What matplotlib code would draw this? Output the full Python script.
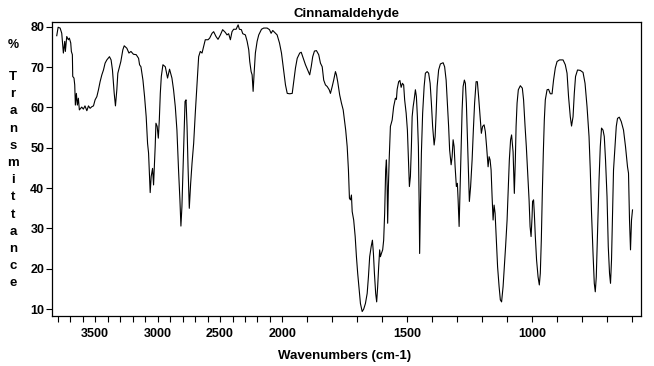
import matplotlib
matplotlib.use('Agg')
import matplotlib.pyplot as plt
import matplotlib.ticker as mticker
import numpy as np

plt.rcParams['font.family'] = ['Liberation Sans', 'DejaVu Sans']
plt.rcParams['font.weight'] = 'bold'

title = 'Cinnamaldehyde'
xlabel = 'Wavenumbers (cm-1)'
ylabel_letters = ['T', 'r', 'a', 'n', 's', 'm', 'i', 't', 't', 'a', 'n', 'c', 'e']

wavenumber = [
    3807, 3796, 3780, 3767, 3754, 3743, 3738, 3727, 3714, 3706, 3695, 3690, 3682, 3679,
    3669, 3663, 3658, 3650, 3642, 3634, 3626, 3607, 3594, 3581, 3566, 3553, 3540, 3526,
    3513, 3500, 3486, 3473, 3460, 3446, 3433, 3420, 3406, 3385, 3372, 3361, 3347, 3337,
    3326, 3318, 3307, 3294, 3278, 3267, 3246, 3229, 3213, 3193, 3171, 3152, 3144, 3133,
    3117, 3104, 3091, 3080, 3072, 3064, 3059, 3051, 3040, 3032, 3019, 3013, 3003, 2994,
    2986, 2978, 2970, 2957, 2938, 2920, 2904, 2885, 2872, 2858, 2845, 2832, 2821, 2813,
    2805, 2796, 2788, 2780, 2772, 2764, 2756, 2746, 2735, 2724, 2711, 2698, 2684, 2671,
    2658, 2644, 2631, 2618, 2596, 2583, 2564, 2551, 2532, 2516, 2497, 2479, 2457, 2444,
    2431, 2417, 2404, 2391, 2371, 2355, 2345, 2329, 2318, 2297, 2283, 2270, 2262, 2251,
    2243, 2235, 2227, 2217, 2203, 2190, 2168, 2150, 2123, 2104, 2091, 2078, 2062, 2043,
    2024, 2008, 1997, 1988, 1981, 1971, 1961, 1955, 1948, 1941, 1931, 1925, 1917, 1908,
    1899, 1891, 1885, 1879, 1872, 1864, 1855, 1848, 1841, 1835, 1828, 1821, 1813, 1808,
    1801, 1795, 1788, 1784, 1779, 1771, 1764, 1757, 1752, 1747, 1741, 1736, 1732, 1728,
    1724, 1721, 1715, 1709, 1704, 1699, 1693, 1688, 1681, 1675, 1668, 1661, 1656, 1651,
    1645, 1640, 1636, 1632, 1627, 1623, 1619, 1615, 1611, 1608, 1604, 1599, 1595, 1591,
    1587, 1584, 1581, 1579, 1576, 1573, 1571, 1568, 1561, 1555, 1548, 1544, 1541, 1535,
    1530, 1525, 1520, 1515, 1511, 1505, 1500, 1496, 1492, 1488, 1484, 1481, 1477, 1473,
    1468, 1464, 1460, 1456, 1453, 1451, 1448, 1444, 1439, 1433, 1428, 1421, 1415, 1409,
    1404, 1399, 1393, 1389, 1385, 1381, 1375, 1368, 1357, 1351, 1345, 1340, 1335, 1331,
    1325, 1321, 1317, 1313, 1309, 1304, 1300, 1297, 1293, 1289, 1285, 1281, 1277, 1272,
    1268, 1264, 1260, 1256, 1252, 1247, 1241, 1236, 1231, 1225, 1220, 1215, 1209, 1204,
    1199, 1193, 1188, 1183, 1177, 1173, 1169, 1165, 1161, 1157, 1153, 1149, 1144, 1139,
    1133, 1128, 1123, 1117, 1112, 1107, 1101, 1096, 1092, 1087, 1083, 1077, 1072, 1068,
    1065, 1061, 1056, 1048, 1040, 1035, 1029, 1024, 1019, 1013, 1009, 1005, 1001, 999,
    995, 992, 988, 983, 977, 972, 968, 964, 960, 956, 952, 948, 941, 935,
    928, 921, 915, 908, 901, 891, 877, 868, 861, 855, 848, 843, 837, 832,
    827, 819, 808, 797, 789, 781, 773, 768, 763, 757, 752, 748, 744, 739,
    733, 728, 723, 717, 712, 707, 701, 696, 691, 687, 683, 679, 675, 669,
    664, 659, 652, 644, 635, 627, 619, 615, 611, 607, 603, 599,
]

transmittance = [
    77.8, 79.9, 79.7, 78.4, 73.5, 76.4, 73.9, 77.6, 76.8, 77.2, 76.0, 73.9, 73.1, 67.7,
    67.3, 65.6, 60.6, 63.5, 60.6, 62.3, 59.4, 60.1, 59.6, 60.4, 59.2, 60.4, 59.8, 60.2,
    60.4, 61.9, 62.7, 64.4, 66.4, 68.1, 69.3, 71.0, 71.8, 72.6, 71.8, 69.3, 63.5, 60.4,
    64.4, 68.5, 69.8, 71.4, 74.3, 75.3, 74.7, 73.5, 73.9, 73.2, 73.1, 72.2, 70.6, 70.1,
    66.8, 62.7, 57.7, 51.1, 48.7, 42.5, 38.9, 42.9, 44.9, 40.8, 50.3, 56.1, 55.3, 52.4,
    56.9, 63.5, 67.7, 70.6, 70.1, 67.3, 69.5, 67.3, 64.4, 60.2, 54.4, 44.5, 37.1, 30.6,
    35.4, 44.5, 52.8, 61.5, 61.9, 55.3, 45.3, 35.0, 41.2, 46.2, 51.1, 58.6, 66.0, 72.6,
    73.9, 73.5, 75.1, 76.8, 76.8, 77.2, 78.4, 78.8, 77.6, 76.9, 78.0, 79.3, 78.6, 78.0,
    78.3, 76.8, 78.8, 79.4, 79.4, 80.5, 79.4, 79.3, 78.3, 78.0, 76.4, 74.3, 71.4, 68.9,
    68.1, 64.0, 68.5, 73.5, 76.4, 78.0, 79.4, 79.7, 79.7, 79.3, 78.4, 79.1, 78.6, 78.0,
    76.0, 73.5, 70.1, 65.6, 63.5, 63.4, 63.5, 66.4, 69.8, 72.2, 73.5, 73.7, 72.2, 70.6,
    69.3, 68.1, 70.1, 72.6, 74.0, 74.1, 73.1, 71.0, 70.1, 66.8, 65.6, 65.2, 64.4, 63.5,
    65.2, 66.8, 68.9, 68.1, 66.4, 63.1, 61.1, 59.4, 56.9, 54.4, 50.3, 44.5, 37.5, 37.1,
    38.3, 34.2, 32.1, 28.0, 23.0, 18.9, 14.7, 11.4, 9.4, 10.0, 11.4, 13.9, 18.0, 23.0,
    25.5, 27.1, 23.8, 18.9, 13.9, 11.8, 15.6, 20.5, 24.7, 23.0, 23.8, 24.7, 27.1, 33.8,
    44.5, 47.0, 40.4, 31.3, 40.4, 47.0, 50.3, 55.3, 56.9, 60.2, 62.3, 62.0, 64.5, 66.4,
    66.7, 65.0, 66.0, 65.6, 61.9, 58.6, 54.4, 47.0, 40.4, 42.9, 50.3, 57.7, 60.2, 61.9,
    64.4, 62.7, 57.7, 50.3, 36.3, 23.8, 35.4, 48.7, 58.6, 65.2, 68.5, 68.9, 68.5, 66.0,
    61.1, 55.3, 50.7, 52.8, 58.6, 65.2, 69.3, 70.8, 71.1, 70.1, 66.8, 61.1, 55.3, 49.5,
    45.8, 47.8, 52.0, 50.3, 45.3, 40.4, 41.2, 37.1, 30.5, 40.4, 50.3, 59.4, 65.2, 66.8,
    66.0, 61.1, 52.8, 43.7, 36.7, 40.4, 47.0, 54.4, 61.1, 66.4, 66.4, 62.7, 57.7, 53.6,
    55.3, 55.7, 54.0, 50.3, 45.3, 47.8, 47.0, 44.5, 37.9, 32.1, 35.8, 33.8, 27.1, 20.5,
    15.6, 12.3, 11.8, 15.6, 20.5, 25.5, 32.1, 40.4, 47.0, 52.0, 53.2, 49.0, 38.7, 47.0,
    55.3, 61.1, 64.4, 65.4, 64.8, 61.9, 55.3, 50.3, 44.5, 37.1, 30.5, 28.0, 32.9, 36.7,
    37.1, 33.8, 28.0, 22.2, 18.0, 16.0, 18.9, 27.1, 38.7, 48.7, 56.9, 61.9, 64.4, 64.5,
    63.4, 63.4, 66.8, 69.8, 71.4, 71.8, 71.8, 70.6, 68.5, 62.7, 57.7, 55.4, 57.7, 63.5,
    67.7, 69.3, 69.2, 68.7, 66.0, 60.2, 52.8, 44.5, 33.8, 23.8, 16.4, 14.3, 18.0, 28.8,
    42.0, 50.3, 54.9, 54.4, 52.8, 47.0, 37.9, 25.5, 18.9, 16.4, 22.2, 33.8, 44.5, 50.3,
    55.3, 57.3, 57.6, 56.5, 54.4, 50.3, 45.3, 43.7, 32.1, 24.7, 32.1, 34.6,
]

major_ticks = [3500, 3000, 2500, 2000, 1500, 1000]
y_ticks = [10, 20, 30, 40, 50, 60, 70, 80]


# spectrometer axis: above 2000 cm-1 is compressed by half
def squash(w):
    w = np.asarray(w, dtype=float)
    return np.where(w > 2000, 2000 + (w - 2000) / 2.0, w)


def unsquash(u):
    u = np.asarray(u, dtype=float)
    return np.where(u > 2000, 2000 + (u - 2000) * 2.0, u)


fig = plt.figure(figsize=(6.54, 3.66), dpi=100)
ax = fig.add_axes([52/654, 50/366, 589/654, 294/366])

ax.plot(wavenumber, transmittance, color='black', lw=0.8)

ax.set_xscale('function', functions=(squash, unsquash))
ax.set_xlim(3845, 565)
ax.set_ylim(8.3, 81.2)

ax.xaxis.set_major_locator(mticker.FixedLocator(major_ticks))
ax.xaxis.set_minor_locator(mticker.FixedLocator(list(range(600, 3900, 100))))
ax.xaxis.set_major_formatter(mticker.FormatStrFormatter('%d'))
ax.xaxis.set_minor_formatter(mticker.NullFormatter())
ax.set_yticks(y_ticks)

ax.tick_params(axis='x', which='both', direction='out', length=4, width=0.8,
               pad=4.5, labelsize=9)
ax.tick_params(axis='y', which='major', direction='out', length=4, width=0.8,
               pad=1.5, labelsize=9)
for s in ax.spines.values():
    s.set_linewidth(0.9)

fig.text(346/654, 1 - 14/366, title, ha='center', va='center',
         fontsize=9.5, fontweight='bold')
fig.text(345/654, 1 - 356/366, xlabel, ha='center', va='center',
         fontsize=9.5, fontweight='bold')

# vertical stacked y label
fig.text(13/654, 1 - 45/366, '%', ha='center', va='center',
         fontsize=9, fontweight='bold')
for i, ch in enumerate(ylabel_letters):
    fig.text(13/654, 1 - (77 + i*17.2)/366, ch, ha='center', va='center',
             fontsize=9.5, fontweight='bold')

fig.savefig('out.png', dpi=100)
